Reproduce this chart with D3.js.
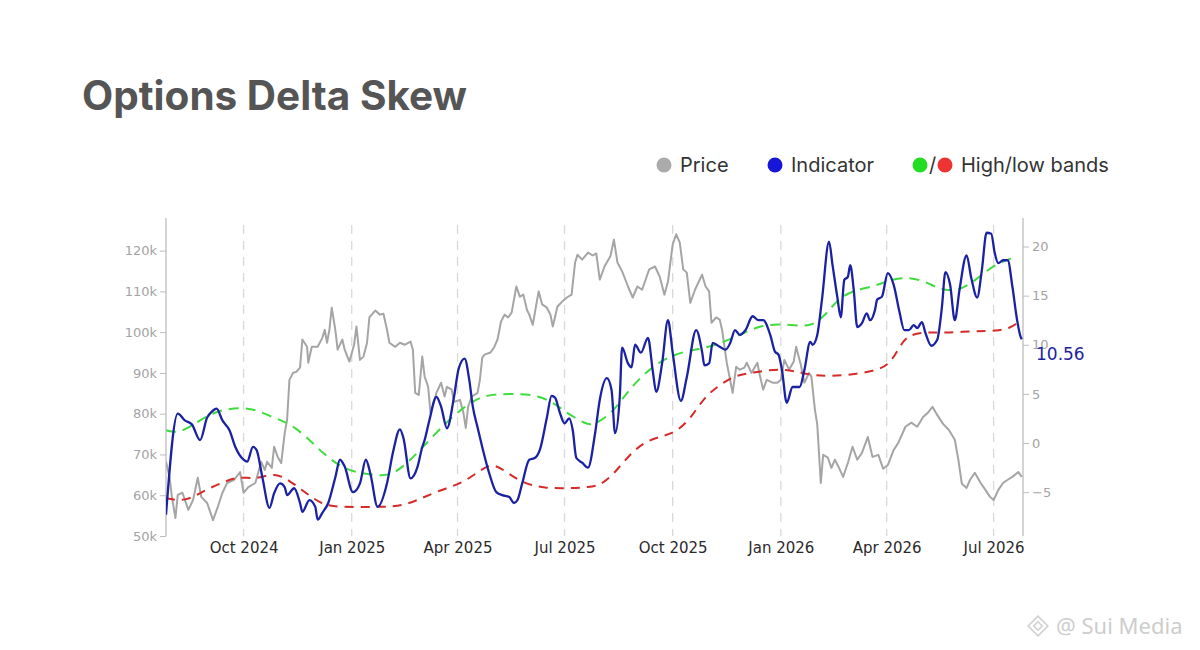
<!DOCTYPE html>
<html>
<head>
<meta charset="utf-8">
<script src="https://cdn.jsdelivr.net/npm/d3@7"></script>
<style>
  body { margin: 0; background: #fff; }
  svg { display: block; }
</style>
</head>
<body>
<div id="chart"></div>
<script>
// chart values
var priceK = [
  ["2024-07-27",68.2],["2024-07-30",64.5],["2024-08-01",59.6],["2024-08-04",54.4],["2024-08-06",60.1],["2024-08-10",60.6],
  ["2024-08-15",56.4],["2024-08-19",58.8],["2024-08-23",64.3],["2024-08-26",59.6],["2024-08-31",58.1],["2024-09-05",53.9],
  ["2024-09-09",57.1],["2024-09-13",60.6],["2024-09-17",63.0],["2024-09-23",63.8],["2024-09-28",65.7],["2024-10-01",60.6],
  ["2024-10-05",62.0],["2024-10-11",63.0],["2024-10-16",68.2],["2024-10-19",66.2],["2024-10-21",68.2],["2024-10-25",66.7],
  ["2024-10-27",71.9],["2024-10-30",69.4],["2024-11-02",67.9],["2024-11-05",75.3],["2024-11-07",78.5],["2024-11-09",88.3],
  ["2024-11-12",90.0],["2024-11-15",90.3],["2024-11-18",91.3],["2024-11-20",98.2],["2024-11-24",96.4],["2024-11-25",92.5],
  ["2024-11-28",96.4],["2024-12-03",96.4],["2024-12-07",98.6],["2024-12-09",100.6],["2024-12-11",97.4],["2024-12-13",100.6],
  ["2024-12-15",106.0],["2024-12-18",100.6],["2024-12-20",95.7],["2024-12-24",98.2],["2024-12-26",95.7],["2024-12-30",92.8],
  ["2025-01-03",96.9],["2025-01-05",101.4],["2025-01-08",93.2],["2025-01-11",94.0],["2025-01-14",97.4],["2025-01-16",103.6],
  ["2025-01-21",105.3],["2025-01-25",104.3],["2025-01-28",104.5],["2025-01-31",100.6],["2025-02-02",97.4],["2025-02-07",96.4],
  ["2025-02-11",97.4],["2025-02-15",96.9],["2025-02-20",97.7],["2025-02-22",95.7],["2025-02-24",85.1],["2025-02-27",84.6],
  ["2025-03-02",94.0],["2025-03-04",89.1],["2025-03-07",86.6],["2025-03-09",80.2],["2025-03-12",82.9],["2025-03-14",85.1],
  ["2025-03-18",87.6],["2025-03-21",84.2],["2025-03-23",86.6],["2025-03-27",85.9],["2025-03-29",82.9],["2025-04-03",83.4],
  ["2025-04-06",80.2],["2025-04-08",76.5],["2025-04-10",81.7],["2025-04-13",84.2],["2025-04-18",85.1],["2025-04-20",88.3],
  ["2025-04-22",93.7],["2025-04-24",94.5],["2025-04-29",95.0],["2025-05-02",96.2],["2025-05-05",98.2],["2025-05-08",102.6],
  ["2025-05-11",104.3],["2025-05-14",103.6],["2025-05-17",104.8],["2025-05-21",111.2],["2025-05-24",108.7],["2025-05-27",109.2],
  ["2025-05-30",105.5],["2025-06-01",104.3],["2025-06-04",101.8],["2025-06-07",106.8],["2025-06-09",110.0],["2025-06-12",106.8],
  ["2025-06-16",106.0],["2025-06-19",104.3],["2025-06-21",101.4],["2025-06-25",106.3],["2025-06-29",107.5],["2025-07-03",108.5],
  ["2025-07-07",109.2],["2025-07-10",117.1],["2025-07-12",119.0],["2025-07-16",117.8],["2025-07-21",119.5],["2025-07-25",118.8],
  ["2025-07-28",119.3],["2025-07-31",112.9],["2025-08-04",116.1],["2025-08-09",118.6],["2025-08-12",122.7],["2025-08-15",117.1],
  ["2025-08-19",114.9],["2025-08-24",111.2],["2025-08-28",108.5],["2025-09-01",111.2],["2025-09-05",110.4],["2025-09-11",115.4],
  ["2025-09-16",116.1],["2025-09-20",113.6],["2025-09-24",109.2],["2025-09-27",112.4],["2025-10-01",121.5],["2025-10-04",124.0],
  ["2025-10-07",122.0],["2025-10-10",115.4],["2025-10-13",114.6],["2025-10-16",107.2],["2025-10-20",110.4],["2025-10-26",114.1],
  ["2025-10-29",111.2],["2025-11-01",110.0],["2025-11-03",102.3],["2025-11-07",103.6],["2025-11-10",103.1],["2025-11-12",100.6],
  ["2025-11-16",92.5],["2025-11-21",85.1],["2025-11-24",91.5],["2025-11-27",90.8],["2025-12-01",91.3],["2025-12-03",92.5],
  ["2025-12-07",90.0],["2025-12-12",92.5],["2025-12-14",89.6],["2025-12-17",85.9],["2025-12-20",88.3],["2025-12-25",87.6],
  ["2025-12-29",87.6],["2026-01-01",88.3],["2026-01-04",93.2],["2026-01-08",90.8],["2026-01-12",92.8],["2026-01-14",96.4],
  ["2026-01-18",92.0],["2026-01-21",87.6],["2026-01-25",90.0],["2026-01-27",89.1],["2026-01-30",81.0],["2026-02-01",77.3],
  ["2026-02-04",63.0],["2026-02-06",69.9],["2026-02-10",69.2],["2026-02-13",66.7],["2026-02-16",68.7],["2026-02-19",67.0],
  ["2026-02-23",64.5],["2026-02-27",67.9],["2026-03-03",71.9],["2026-03-07",68.7],["2026-03-11",70.4],["2026-03-16",74.3],
  ["2026-03-20",69.4],["2026-03-25",69.9],["2026-03-29",66.5],["2026-04-02",67.4],["2026-04-07",71.1],["2026-04-11",72.9],
  ["2026-04-17",76.8],["2026-04-22",77.8],["2026-04-27",76.8],["2026-05-02",79.2],["2026-05-06",80.2],["2026-05-10",81.7],
  ["2026-05-14",79.7],["2026-05-19",77.5],["2026-05-24",76.0],["2026-05-29",73.6],["2026-06-01",68.7],["2026-06-04",62.8],
  ["2026-06-08",61.8],["2026-06-11",63.8],["2026-06-15",65.5],["2026-06-20",63.0],["2026-06-24",61.3],["2026-06-28",59.6],
  ["2026-07-01",58.8],["2026-07-05",61.3],["2026-07-09",63.0],["2026-07-13",63.8],["2026-07-17",64.5],["2026-07-22",65.7],
  ["2026-07-25",64.5]
];

var indicator = [
  ["2024-07-27",-7.3],["2024-08-06",3.0],["2024-08-12",2.3],["2024-08-18",1.9],["2024-08-25",0.3],["2024-08-31",2.6],
  ["2024-09-04",3.2],["2024-09-08",3.5],["2024-09-13",2.3],["2024-09-19",1.3],["2024-09-24",-0.4],["2024-10-01",-1.7],
  ["2024-10-04",-1.9],["2024-10-09",-0.4],["2024-10-12",-0.7],["2024-10-17",-3.5],["2024-10-23",-6.6],["2024-10-27",-5.1],
  ["2024-11-01",-4.1],["2024-11-05",-4.5],["2024-11-07",-5.3],["2024-11-13",-4.6],["2024-11-18",-6.1],["2024-11-20",-7.0],
  ["2024-11-26",-5.8],["2024-12-01",-6.5],["2024-12-03",-7.8],["2024-12-07",-7.1],["2024-12-12",-6.1],["2024-12-18",-3.5],
  ["2024-12-22",-1.7],["2024-12-26",-2.4],["2025-01-02",-5.0],["2025-01-08",-4.1],["2025-01-13",-1.7],["2025-01-17",-3.2],
  ["2025-01-23",-6.5],["2025-01-31",-4.1],["2025-02-05",-1.0],["2025-02-11",1.4],["2025-02-14",0.5],["2025-02-20",-3.6],
  ["2025-02-26",-2.4],["2025-03-02",-0.4],["2025-03-04",0.3],["2025-03-08",2.3],["2025-03-14",4.7],["2025-03-18",3.7],
  ["2025-03-23",1.5],["2025-03-29",4.7],["2025-04-02",7.6],["2025-04-07",8.6],["2025-04-11",6.4],["2025-04-14",3.7],
  ["2025-04-18",1.6],["2025-04-22",-0.4],["2025-04-28",-3.1],["2025-05-04",-5.0],["2025-05-09",-5.3],["2025-05-15",-5.5],
  ["2025-05-19",-6.1],["2025-05-22",-5.8],["2025-05-26",-4.1],["2025-06-01",-1.7],["2025-06-06",-1.5],["2025-06-10",-0.7],
  ["2025-06-16",2.6],["2025-06-20",4.8],["2025-06-23",4.6],["2025-06-27",3.1],["2025-07-01",2.0],["2025-07-05",2.5],
  ["2025-07-08",1.3],["2025-07-11",-1.5],["2025-07-16",-2.0],["2025-07-21",-2.5],["2025-07-27",1.0],["2025-07-31",4.4],
  ["2025-08-06",6.6],["2025-08-10",5.4],["2025-08-13",1.0],["2025-08-17",4.7],["2025-08-19",9.7],["2025-08-24",8.1],
  ["2025-08-27",7.7],["2025-08-30",10.0],["2025-09-04",9.2],["2025-09-10",10.7],["2025-09-14",7.4],["2025-09-17",5.2],
  ["2025-09-22",8.1],["2025-09-27",12.5],["2025-10-01",9.2],["2025-10-08",4.3],["2025-10-13",6.7],["2025-10-21",11.5],
  ["2025-10-26",9.3],["2025-10-28",7.9],["2025-11-01",8.1],["2025-11-04",10.2],["2025-11-10",9.8],["2025-11-15",9.5],
  ["2025-11-19",10.2],["2025-11-23",11.5],["2025-11-27",11.0],["2025-12-02",11.5],["2025-12-08",12.9],["2025-12-13",12.5],
  ["2025-12-17",12.5],["2025-12-23",11.0],["2025-12-27",9.3],["2025-12-30",9.0],["2026-01-02",7.4],["2026-01-06",4.1],
  ["2026-01-11",5.7],["2026-01-17",5.7],["2026-01-21",7.4],["2026-01-26",10.3],["2026-01-28",10.0],["2026-02-01",11.0],
  ["2026-02-05",14.6],["2026-02-11",20.5],["2026-02-14",18.1],["2026-02-18",14.9],["2026-02-21",12.8],["2026-02-24",16.6],
  ["2026-02-27",16.9],["2026-03-01",18.1],["2026-03-04",15.6],["2026-03-07",11.8],["2026-03-11",12.2],["2026-03-15",13.2],
  ["2026-03-18",12.5],["2026-03-22",13.5],["2026-03-24",14.6],["2026-03-28",14.9],["2026-04-02",17.3],["2026-04-07",16.1],
  ["2026-04-12",13.3],["2026-04-16",11.5],["2026-04-20",11.5],["2026-04-24",12.0],["2026-04-27",11.7],["2026-05-01",12.3],
  ["2026-05-04",11.2],["2026-05-09",9.9],["2026-05-14",10.5],["2026-05-18",13.8],["2026-05-21",17.4],["2026-05-25",16.1],
  ["2026-05-29",12.5],["2026-06-02",15.6],["2026-06-08",19.1],["2026-06-12",16.8],["2026-06-17",14.8],["2026-06-21",17.6],
  ["2026-06-25",21.4],["2026-06-29",21.3],["2026-07-02",19.3],["2026-07-05",18.3],["2026-07-09",18.6],["2026-07-13",18.6],
  ["2026-07-17",15.9],["2026-07-21",12.5],["2026-07-24",10.8],["2026-07-25",10.56]
];

var highBand = [
  ["2024-07-27",1.3],["2024-08-05",1.0],["2024-08-16",1.6],["2024-08-31",2.8],["2024-09-13",3.4],["2024-09-28",3.6],
  ["2024-10-12",3.4],["2024-10-26",2.6],["2024-11-09",2.0],["2024-11-24",0.6],["2024-12-07",-1.0],["2024-12-22",-2.4],
  ["2025-01-05",-3.0],["2025-01-22",-3.3],["2025-02-02",-3.3],["2025-02-13",-2.5],["2025-02-25",-1.1],["2025-03-12",0.8],
  ["2025-03-25",2.4],["2025-04-07",3.7],["2025-04-20",4.7],["2025-05-05",5.0],["2025-05-25",5.0],["2025-06-10",4.8],
  ["2025-06-24",3.9],["2025-07-05",2.9],["2025-07-18",2.0],["2025-07-25",1.8],["2025-08-04",2.5],["2025-08-14",3.6],
  ["2025-08-24",5.3],["2025-09-08",7.2],["2025-09-24",8.6],["2025-10-10",9.3],["2025-10-26",9.6],["2025-11-12",10.2],
  ["2025-11-27",11.0],["2025-12-15",12.0],["2026-01-01",12.1],["2026-01-20",11.9],["2026-01-28",12.0],["2026-02-08",13.0],
  ["2026-02-18",14.6],["2026-03-03",15.5],["2026-03-20",15.9],["2026-04-02",16.5],["2026-04-15",16.9],["2026-05-01",16.6],
  ["2026-05-12",15.9],["2026-05-22",15.5],["2026-06-04",15.6],["2026-06-18",16.8],["2026-07-02",18.2],["2026-07-19",18.9]
];

var lowBand = [
  ["2024-07-27",-5.6],["2024-08-12",-6.0],["2024-08-29",-4.8],["2024-09-15",-3.9],["2024-09-28",-3.4],["2024-10-12",-3.7],
  ["2024-10-27",-3.0],["2024-11-09",-3.8],["2024-11-22",-5.0],["2024-12-05",-6.1],["2024-12-16",-6.5],["2025-01-08",-6.5],
  ["2025-01-29",-6.5],["2025-02-13",-6.4],["2025-02-28",-5.7],["2025-03-17",-4.8],["2025-04-05",-4.1],["2025-04-20",-2.8],
  ["2025-05-01",-2.0],["2025-05-13",-3.0],["2025-05-27",-4.1],["2025-06-14",-4.6],["2025-07-05",-4.6],["2025-07-22",-4.5],
  ["2025-07-31",-4.3],["2025-08-11",-3.3],["2025-08-25",-1.2],["2025-09-08",0.2],["2025-09-22",0.7],["2025-10-04",1.1],
  ["2025-10-17",2.6],["2025-10-28",4.7],["2025-11-10",5.9],["2025-11-23",6.9],["2025-12-06",7.1],["2025-12-19",7.4],
  ["2026-01-02",7.5],["2026-01-14",7.3],["2026-01-27",6.9],["2026-02-11",6.8],["2026-03-07",7.0],["2026-03-26",7.5],
  ["2026-04-04",8.1],["2026-04-12",9.8],["2026-04-19",11.0],["2026-05-04",11.3],["2026-05-20",11.2],["2026-06-15",11.4],
  ["2026-07-04",11.4],["2026-07-15",11.7],["2026-07-21",12.2]
];

var xTickDates = ["2024-10-01","2025-01-01","2025-04-01","2025-07-01","2025-10-01","2026-01-01","2026-04-01","2026-07-01"];
var priceTicks = [50, 60, 70, 80, 90, 100, 110, 120];
var indicatorTicks = [-5, 0, 5, 10, 15, 20];
var legendItems = [
  {label: "Price", colors: ["#ababab"]},
  {label: "Indicator", colors: ["#1616d8"]},
  {label: "High/low bands", colors: ["#22dd22", "#ee3333"]}
];
var lastValue = 10.56;

// page setup
var W = 1200, H = 650;
var plot = {left: 166, right: 1023, top: 218, bottom: 536};
var parse = d3.timeParse("%Y-%m-%d");

var svg = d3.select("#chart").append("svg")
    .attr("width", W)
    .attr("height", H);

svg.append("rect").attr("width", W).attr("height", H).attr("fill", "#fff");

// title
svg.append("text")
    .attr("x", 82)
    .attr("y", 110)
    .attr("font-family", "Inter, 'Noto Sans', sans-serif")
    .attr("font-weight", 700)
    .attr("font-size", 40.5)
    .attr("fill", "#555")
    .text("Options Delta Skew");

// scales
var x = d3.scaleTime()
    .domain([parse("2024-07-27"), parse("2026-07-26")])
    .range([plot.left, plot.right]);
var yL = d3.scaleLinear().domain([50, 128]).range([plot.bottom, plot.top]);
var yR = d3.scaleLinear().domain([-9.46, 22.9]).range([plot.bottom, plot.top]);

// dashed vertical gridlines at the quarter ticks
svg.append("g")
    .selectAll("line")
    .data(xTickDates)
    .enter()
    .append("line")
        .attr("x1", d => x(parse(d)))
        .attr("x2", d => x(parse(d)))
        .attr("y1", 225)
        .attr("y2", plot.bottom)
        .attr("stroke", "#d9d9d9")
        .attr("stroke-width", 1.3)
        .attr("stroke-dasharray", "9,7");

// axes
var axisFont = "'DejaVu Sans', Verdana, sans-serif";

var gL = svg.append("g")
    .attr("transform", "translate(" + plot.left + ",0)")
    .call(d3.axisLeft(yL).tickValues(priceTicks).tickFormat(d => d + "k").tickSize(6).tickSizeOuter(0).tickPadding(3));
var gR = svg.append("g")
    .attr("transform", "translate(" + plot.right + ",0)")
    .call(d3.axisRight(yR).tickValues(indicatorTicks).tickSize(6).tickSizeOuter(0).tickPadding(3));
[gL, gR].forEach(function (g) {
    g.select(".domain").attr("stroke", "#bdbdbd").attr("stroke-width", 1.3)
        .attr("d", "M0," + plot.top + "V" + plot.bottom);
    g.selectAll(".tick line").attr("stroke", "#bdbdbd");
    g.selectAll(".tick text").attr("fill", "#a3a3a3").attr("font-size", 13).attr("font-family", axisFont);
});

var gX = svg.append("g")
    .attr("transform", "translate(0," + plot.bottom + ")")
    .call(d3.axisBottom(x).tickValues(xTickDates.map(parse)).tickFormat(d3.timeFormat("%b %Y")).tickSize(0).tickPadding(6));
gX.select(".domain").remove();
gX.selectAll(".tick text").attr("fill", "#2a2a2a").attr("font-size", 15).attr("font-family", axisFont);

// lines
svg.append("clipPath").attr("id", "clip")
    .append("rect")
    .attr("x", plot.left).attr("y", plot.top - 10)
    .attr("width", plot.right - plot.left + 1).attr("height", plot.bottom - plot.top + 10);

var lines = svg.append("g").attr("clip-path", "url(#clip)");

var priceLine = d3.line().x(d => x(parse(d[0]))).y(d => yL(d[1]));
var indLine = d3.line().x(d => x(parse(d[0]))).y(d => yR(d[1])).curve(d3.curveMonotoneX);
var bandLine = d3.line().x(d => x(parse(d[0]))).y(d => yR(d[1])).curve(d3.curveBasis);

lines.append("path")
    .datum(priceK)
    .attr("d", priceLine)
    .attr("fill", "none")
    .attr("stroke", "#a5a5a5")
    .attr("stroke-width", 2)
    .attr("stroke-linejoin", "round");

lines.append("path")
    .datum(highBand)
    .attr("d", bandLine)
    .attr("fill", "none")
    .attr("stroke", "#3fdc3f")
    .attr("stroke-width", 2)
    .attr("stroke-dasharray", "10,7");

lines.append("path")
    .datum(lowBand)
    .attr("d", bandLine)
    .attr("fill", "none")
    .attr("stroke", "#d42a2a")
    .attr("stroke-width", 2)
    .attr("stroke-dasharray", "9,7");

lines.append("path")
    .datum(indicator)
    .attr("d", indLine)
    .attr("fill", "none")
    .attr("stroke", "#1a22a3")
    .attr("stroke-width", 2.3)
    .attr("stroke-linejoin", "round");

// last value label, sits over the "10" tick as in the source
svg.append("text")
    .attr("x", 1036)
    .attr("y", yR(lastValue) + 21)
    .attr("font-family", axisFont)
    .attr("font-size", 17)
    .attr("fill", "#1a22a3")
    .text(lastValue.toFixed(2));

// legend
var legendX = [656, 767, 912];
var legend = svg.append("g")
    .attr("font-family", "Inter, 'Noto Sans', sans-serif")
    .attr("font-size", 20)
    .attr("fill", "#333");

legendItems.forEach(function (item, i) {
    var g = legend.append("g").attr("transform", "translate(" + legendX[i] + ",165)");
    var cx = 8;
    item.colors.forEach(function (c, j) {
        if (j > 0) {
            g.append("text").attr("x", cx + 9).attr("y", 7).text("/");
            cx += 25;
        }
        g.append("circle").attr("cx", cx).attr("cy", 0).attr("r", 7.5).attr("fill", c);
    });
    g.append("text").attr("x", cx + 16).attr("y", 7).text(item.label);
});

// watermark
var wm = svg.append("g").attr("fill", "none").attr("stroke", "#cfcfcf").attr("stroke-width", 1.5);
wm.append("rect").attr("x", -7).attr("y", -7).attr("width", 14).attr("height", 14)
    .attr("transform", "translate(1038,626) rotate(45)");
wm.append("rect").attr("x", -3).attr("y", -3).attr("width", 6).attr("height", 6)
    .attr("transform", "translate(1038,626) rotate(45)");
svg.append("text")
    .attr("x", 1056)
    .attr("y", 634)
    .attr("font-family", "'Noto Sans', sans-serif")
    .attr("font-size", 22)
    .attr("fill", "#cdcdcd")
    .text("@ Sui Media");
</script>
</body>
</html>
